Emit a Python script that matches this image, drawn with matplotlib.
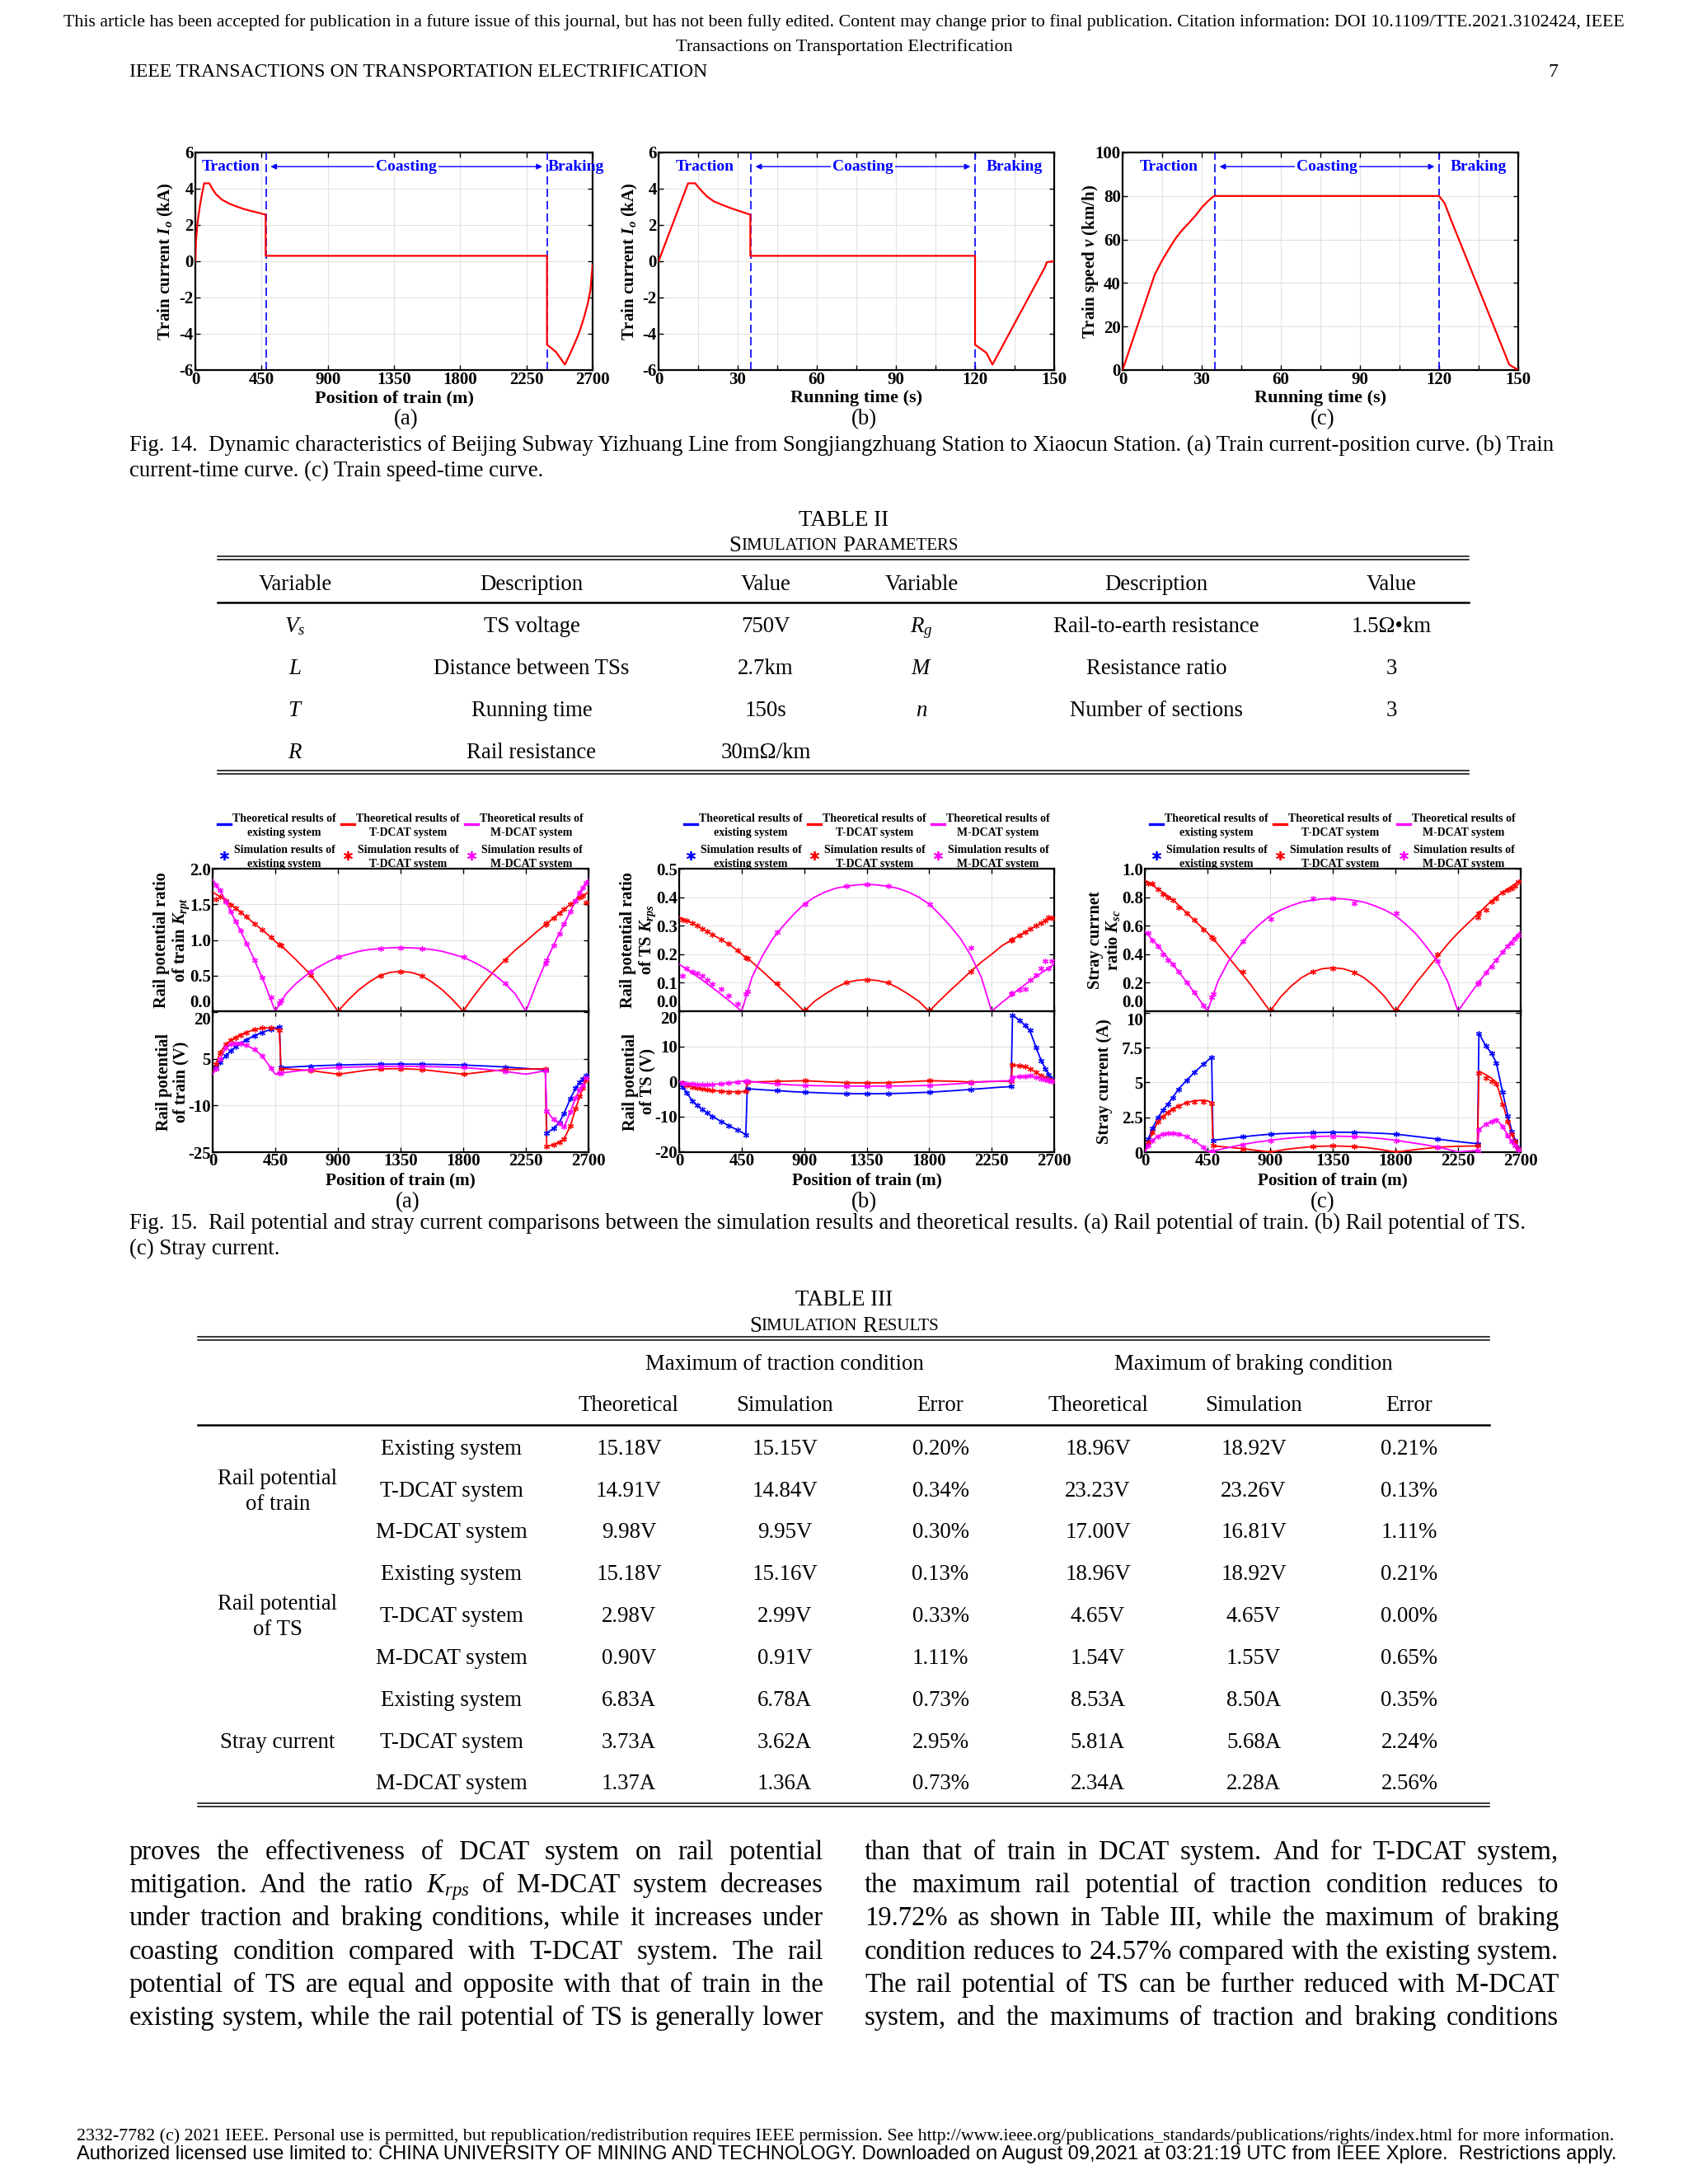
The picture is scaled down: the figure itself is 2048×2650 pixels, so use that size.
import matplotlib
matplotlib.use("Agg")
import matplotlib.pyplot as plt
from matplotlib.lines import Line2D

W, H = 2048, 2650

# ---------------- Fig. 14 data ----------------
pos_a = [0, 5, 15, 30, 45, 60, 95, 115, 140, 180, 230, 280, 330, 380, 430, 478, 478,
         2390, 2390, 2451, 2512, 2550, 2580, 2610, 2640, 2665, 2685, 2700]
cur_a = [0, 1.2, 2.15, 3.0, 3.7, 4.3, 4.3, 4.0, 3.7, 3.4, 3.18, 3.02, 2.88, 2.77, 2.67, 2.57, 0.3,
         0.3, -4.6, -5.0, -5.7, -5.05, -4.5, -3.9, -3.15, -2.4, -1.6, -0.2]
time_b = [0, 11.2, 13.9, 15, 16.5, 18.4, 21, 24, 27, 30, 32.5, 34.8, 34.8, 120, 120, 124.3, 126.6,
          146.6, 147.2, 150]
cur_b = [0, 4.3, 4.3, 4.1, 3.85, 3.57, 3.3, 3.12, 2.95, 2.8, 2.68, 2.57, 0.3, 0.3, -4.6, -5.05, -5.7,
         -0.3, -0.05, 0]
time_c = [0, 3, 6, 9, 12.2, 14.9, 17.5, 20, 22.5, 25.3, 28, 30.1, 32.5, 34.7, 120, 122.1, 124.5,
          146.6, 150]
speed_c = [0, 10.8, 21.6, 32.4, 43.9, 50.2, 55.5, 60.3, 64.2, 67.8, 71.5, 74.8, 77.8, 80, 80, 76.7,
           69.1, 2.5, 0]
phase_pos = [480, 2390]
phase_time = [35, 120]

pos_ticks = [0, 450, 900, 1350, 1800, 2250, 2700]
time_ticks = [0, 15, 30, 45, 60, 75, 90, 105, 120, 135, 150]
time_tick_labels = ['0', '', '30', '', '60', '', '90', '', '120', '', '150']

# ---------------- Fig. 15 data ----------------
ratio_pos = list(range(0, 2701, 75))
krpt_tdcat = [1.67, 1.58, 1.47, 1.35, 1.23, 1.11, 0.98, 0.86, 0.72, 0.57, 0.40, 0.21, 0.00,
              0.16, 0.30, 0.41, 0.50, 0.545, 0.56, 0.545, 0.50, 0.41, 0.30, 0.16, 0.00,
              0.21, 0.40, 0.57, 0.72, 0.86, 0.98, 1.11, 1.23, 1.35, 1.47, 1.58, 1.67]
krpt_mdcat = [1.85, 1.62, 1.32, 1.03, 0.72, 0.38, 0.00,
              0.24, 0.39, 0.51, 0.61, 0.69, 0.757, 0.80, 0.84, 0.865, 0.88, 0.89, 0.893, 0.89, 0.88,
              0.865, 0.84, 0.80, 0.757, 0.69, 0.61, 0.51, 0.39, 0.24, 0.00,
              0.38, 0.72, 1.03, 1.32, 1.62, 1.85]
krps_tdcat = [0.330, 0.314, 0.294, 0.273, 0.252, 0.230, 0.200, 0.172, 0.140, 0.106, 0.072, 0.037, 0.000,
              0.035, 0.060, 0.082, 0.100, 0.108, 0.111, 0.108, 0.100, 0.082, 0.060, 0.035, 0.000,
              0.037, 0.072, 0.106, 0.140, 0.172, 0.200, 0.230, 0.252, 0.273, 0.294, 0.314, 0.330]
krps_mdcat = [0.165, 0.140, 0.115, 0.088, 0.060, 0.031, 0.000,
              0.12, 0.195, 0.255, 0.30, 0.34, 0.376, 0.40, 0.418, 0.431, 0.438, 0.443, 0.445, 0.443,
              0.438, 0.431, 0.418, 0.40, 0.376, 0.34, 0.30, 0.255, 0.195, 0.12, 0.00,
              0.031, 0.060, 0.088, 0.115, 0.140, 0.165]
ksc_tdcat = [0.92, 0.87, 0.82, 0.76, 0.69, 0.62, 0.55, 0.47, 0.38, 0.29, 0.20, 0.10, 0.00,
             0.10, 0.175, 0.235, 0.275, 0.298, 0.305, 0.298, 0.275, 0.235, 0.175, 0.10, 0.00,
             0.10, 0.20, 0.29, 0.38, 0.47, 0.55, 0.62, 0.69, 0.76, 0.82, 0.87, 0.92]
ksc_mdcat = [0.56, 0.48, 0.39, 0.30, 0.205, 0.105, 0.00,
             0.21, 0.35, 0.45, 0.54, 0.61, 0.67, 0.71, 0.74, 0.765, 0.778, 0.788, 0.79, 0.788, 0.778,
             0.765, 0.74, 0.71, 0.67, 0.61, 0.54, 0.45, 0.35, 0.21, 0.00,
             0.105, 0.205, 0.30, 0.39, 0.48, 0.56]

sim_pos = [25, 55, 95, 130, 165, 200, 240, 300, 355, 420, 480, 490, 705, 905, 1205, 1350, 1505,
           1805, 2100, 2390, 2400, 2450, 2490, 2525, 2570, 2608, 2637, 2660, 2685]
sim_krpt_tdcat = [1.57, 1.61, 1.55, 1.49, 1.44, 1.39, 1.33, 1.23, 1.14, 1.04, 0.94, 0.93, 0.51, 0.0,
                  0.50, 0.56, 0.50, 0.0, 0.72, 1.21, 1.24, 1.31, 1.38, 1.43, 1.50, 1.55, 1.59, 1.62, 1.53]
sim_krpt_mdcat = [1.77, 1.70, 1.54, 1.40, 1.26, 1.13, 0.95, 0.72, 0.47, 0.20, 0.12, 0.15, 0.55, 0.76,
                  0.88, 0.89, 0.88, 0.76, 0.39, 0.67, 0.72, 0.93, 1.09, 1.22, 1.40, 1.55, 1.66, 1.73, 1.80]
sim_krps_tdcat = [0.322, 0.319, 0.309, 0.300, 0.290, 0.280, 0.268, 0.252, 0.236, 0.213, 0.189, 0.185,
                  0.099, 0.003, 0.100, 0.111, 0.100, 0.002, 0.140, 0.249, 0.252, 0.266, 0.278, 0.288,
                  0.300, 0.310, 0.317, 0.330, 0.327]
sim_krps_mdcat = [0.125, 0.150, 0.140, 0.133, 0.125, 0.110, 0.095, 0.077, 0.055, 0.025, 0.060, 0.068,
                  0.278, 0.376, 0.440, 0.445, 0.440, 0.376, 0.222, 0.061, 0.063, 0.075, 0.078, 0.109,
                  0.128, 0.151, 0.177, 0.150, 0.175]
sim_ksc_tdcat = [0.895, 0.895, 0.857, 0.82, 0.80, 0.78, 0.73, 0.69, 0.64, 0.57, 0.52, 0.51, 0.276, 0.007,
                 0.276, 0.298, 0.27, 0.007, 0.40, 0.66, 0.69, 0.71, 0.77, 0.79, 0.83, 0.85, 0.86, 0.88, 0.91]
sim_ksc_mdcat = [0.55, 0.50, 0.455, 0.40, 0.36, 0.33, 0.28, 0.205, 0.135, 0.04, 0.10, 0.12, 0.49, 0.65,
                 0.79, 0.79, 0.76, 0.69, 0.35, 0.19, 0.205, 0.27, 0.31, 0.36, 0.415, 0.455, 0.48, 0.51, 0.53]

theory_pos = [0, 25, 55, 95, 130, 165, 200, 240, 300, 355, 420, 450, 480, 490, 600, 705, 800, 905,
              1000, 1100, 1205, 1350, 1505, 1600, 1700, 1805, 1900, 2000, 2100, 2200, 2250, 2300, 2390,
              2400, 2450, 2490, 2525, 2570, 2608, 2637, 2660, 2685, 2700]
rpt_exist = [0, 2.1, 3.9, 6.0, 7.5, 8.8, 9.9, 11.0, 12.4, 13.4, 14.4, 14.8, 15.18,
             2.1, 2.4, 2.6, 2.8, 2.95, 3.05, 3.15, 3.2, 3.25, 3.2, 3.15, 3.05, 2.95, 2.75, 2.55, 2.3, 2.0,
             1.85, 1.7, 1.4, -18.96, -17.3, -15.5, -12.5, -7.8, -4.5, -2.6, -1.6, -0.5, 0]
rpt_tdcat = [0, 3.5, 7.0, 9.6, 10.9, 11.8, 12.6, 13.4, 14.3, 14.8, 14.91, 14.6, 14.0,
             1.8, 1.5, 1.2, 0.6, 0.0, 0.6, 1.25, 1.7, 1.8, 1.5, 1.0, 0.5, 0.0, 0.5, 1.0, 1.5, 1.6,
             1.65, 1.7, 1.7, -23.23, -22.5, -21.8, -20.8, -16.5, -11.0, -7.0, -4.5, -1.8, 0]
rpt_mdcat = [0, 1.8, 5.0, 8.6, 9.7, 9.98, 9.95, 9.3, 8.0, 5.9, 1.9, 0.0, 0.3,
             0.4, 1.0, 1.5, 1.9, 2.15, 2.3, 2.4, 2.5, 2.55, 2.5, 2.4, 2.3, 2.15, 1.8, 1.4, 0.9, 0.3,
             0.0, 0.4, 1.1, -11.9, -14.5, -15.8, -17.0, -12.0, -7.5, -5.0, -3.5, -1.2, 0]
rps_exist = [0, -1.6, -3.2, -5.6, -6.9, -8.0, -9.0, -10.0, -11.4, -12.6, -13.9, -14.5, -15.18,
             -2.1, -2.4, -2.65, -2.9, -3.1, -3.25, -3.4, -3.5, -3.55, -3.5, -3.4, -3.25, -3.1, -2.85,
             -2.6, -2.3, -2.0, -1.85, -1.7, -1.5, 18.96, 17.4, 16.0, 14.5, 9.6, 5.8, 3.6, 2.0, 0.8, 0]
rps_tdcat = [0, -0.5, -1.1, -1.6, -1.95, -2.2, -2.4, -2.6, -2.8, -2.95, -2.98, -2.95, -2.9,
             -0.2, -0.1, 0.0, 0.1, 0.2, 0.0, -0.2, -0.4, -0.45, -0.4, -0.2, 0.0, 0.2, 0.1, 0.0, -0.2,
             -0.1, -0.05, 0.0, 0.0, 4.65, 4.5, 4.2, 3.6, 2.6, 1.6, 1.0, 0.6, 0.2, 0]
rps_mdcat = [0, -0.35, -0.6, -0.75, -0.85, -0.9, -0.9, -0.85, -0.7, -0.5, -0.15, 0.0, 0.05,
             0.05, -0.4, -0.75, -1.0, -1.15, -1.25, -1.3, -1.35, -1.37, -1.35, -1.3, -1.25, -1.15,
             -0.95, -0.7, -0.4, -0.1, 0.0, 0.1, 0.2, 1.2, 1.35, 1.5, 1.54, 1.2, 0.8, 0.5, 0.3, 0.1, 0]
sc_exist = [0, 0.95, 1.7, 2.5, 3.0, 3.45, 3.9, 4.5, 5.15, 5.7, 6.3, 6.55, 6.83,
            0.85, 0.98, 1.1, 1.2, 1.29, 1.34, 1.37, 1.39, 1.43, 1.42, 1.39, 1.35, 1.29, 1.18, 1.06,
            0.94, 0.82, 0.76, 0.7, 0.61, 8.53, 7.6, 7.1, 6.4, 4.3, 2.6, 1.5, 0.85, 0.3, 0]
sc_tdcat = [0, 0.7, 1.4, 2.2, 2.55, 2.85, 3.1, 3.3, 3.55, 3.68, 3.73, 3.68, 3.55,
            0.45, 0.35, 0.25, 0.13, 0.0, 0.18, 0.3, 0.4, 0.45, 0.4, 0.32, 0.18, 0.0, 0.13, 0.25, 0.35,
            0.4, 0.42, 0.43, 0.45, 5.81, 5.55, 5.3, 5.0, 3.5, 2.2, 1.3, 0.75, 0.25, 0]
sc_mdcat = [0, 0.45, 0.85, 1.15, 1.3, 1.36, 1.37, 1.32, 1.12, 0.82, 0.35, 0.0, 0.06,
            0.08, 0.33, 0.55, 0.72, 0.85, 0.97, 1.06, 1.12, 1.15, 1.12, 1.06, 0.97, 0.85, 0.7, 0.55,
            0.38, 0.15, 0.0, 0.06, 0.12, 1.62, 2.0, 2.2, 2.34, 1.85, 1.2, 0.75, 0.45, 0.15, 0]

sim_rpt_exist = [2.1, 3.9, 6.0, 7.5, 8.8, 9.9, 11.0, 12.4, 13.4, 14.4, 15.15, 2.1, 2.6, 2.95, 3.2,
                 3.25, 3.2, 2.95, 2.3, 1.4, -18.92, -17.3, -15.5, -12.5, -7.8, -4.5, -2.6, -1.6, -0.5]
sim_rpt_tdcat = [3.4, 6.9, 9.6, 10.9, 11.8, 12.6, 13.4, 14.3, 14.8, 14.84, 14.0, 1.8, 1.2, 0.0, 1.7,
                 1.8, 1.5, 0.0, 1.5, 1.7, -23.26, -22.5, -21.8, -20.8, -16.5, -11.0, -7.0, -4.5, -1.8]
sim_rpt_mdcat = [1.7, 5.0, 8.6, 9.7, 9.95, 9.9, 9.3, 8.0, 5.9, 1.9, 0.3, 0.4, 1.5, 2.15, 2.5, 2.55,
                 2.5, 2.15, 0.9, 1.1, -11.9, -14.5, -15.8, -16.81, -12.0, -7.5, -5.0, -3.5, -1.2]
sim_rps_exist = [-1.6, -3.2, -5.6, -6.9, -8.0, -9.0, -10.0, -11.4, -12.6, -13.9, -15.16, -2.1, -2.65,
                 -3.1, -3.5, -3.55, -3.5, -3.1, -2.3, -1.5, 18.92, 17.4, 16.0, 14.5, 9.6, 5.8, 3.6, 2.0, 0.8]
sim_rps_tdcat = [-0.5, -1.1, -1.6, -1.95, -2.2, -2.4, -2.6, -2.8, -2.95, -2.99, -2.9, -0.2, 0.0, 0.2,
                 -0.4, -0.45, -0.4, 0.2, -0.2, 0.0, 4.65, 4.5, 4.2, 3.6, 2.6, 1.6, 1.0, 0.6, 0.2]
sim_rps_mdcat = [-0.35, -0.6, -0.75, -0.85, -0.91, -0.9, -0.85, -0.7, -0.5, -0.15, 0.05, 0.05, -0.75,
                 -1.15, -1.35, -1.37, -1.35, -1.15, -0.4, 0.2, 1.2, 1.35, 1.5, 1.55, 1.2, 0.8, 0.5, 0.3, 0.1]
sim_sc_exist = [0.95, 1.7, 2.5, 3.0, 3.45, 3.9, 4.5, 5.15, 5.7, 6.3, 6.78, 0.85, 1.1, 1.29, 1.39, 1.43,
                1.42, 1.29, 0.94, 0.61, 8.5, 7.6, 7.1, 6.4, 4.3, 2.6, 1.5, 0.85, 0.3]
sim_sc_tdcat = [0.7, 1.4, 2.2, 2.55, 2.85, 3.1, 3.3, 3.55, 3.62, 3.6, 3.5, 0.45, 0.25, 0.0, 0.4, 0.45,
                0.4, 0.0, 0.35, 0.45, 5.68, 5.3, 5.1, 4.9, 3.4, 2.2, 1.3, 0.75, 0.25]
sim_sc_mdcat = [0.45, 0.85, 1.15, 1.3, 1.36, 1.36, 1.32, 1.12, 0.82, 0.35, 0.06, 0.08, 0.55, 0.85, 1.12,
                1.15, 1.12, 0.85, 0.38, 0.12, 1.62, 2.0, 2.2, 2.28, 1.85, 1.2, 0.75, 0.45, 0.15]

# ---------------- tables ----------------
t2_header = ['Variable', 'Description', 'Value', 'Variable', 'Description', 'Value']
t2_var1 = [r'$V_s$', r'$L$', r'$T$', r'$R$']
t2_desc1 = ['TS voltage', 'Distance between TSs', 'Running time', 'Rail resistance']
t2_val1 = ['750V', '2.7km', '150s', '30mΩ/km']
t2_var2 = [r'$R_g$', r'$M$', r'$n$', '']
t2_desc2 = ['Rail-to-earth resistance', 'Resistance ratio', 'Number of sections', '']
t2_val2 = ['1.5Ω•km', '3', '3', '']

t3_groups = [['Rail potential', 'of train'], ['Rail potential', 'of TS'], ['Stray current']]
t3_systems = ['Existing system', 'T-DCAT system', 'M-DCAT system']
t3_theo_trac = ['15.18V', '14.91V', '9.98V', '15.18V', '2.98V', '0.90V', '6.83A', '3.73A', '1.37A']
t3_sim_trac = ['15.15V', '14.84V', '9.95V', '15.16V', '2.99V', '0.91V', '6.78A', '3.62A', '1.36A']
t3_err_trac = ['0.20%', '0.34%', '0.30%', '0.13%', '0.33%', '1.11%', '0.73%', '2.95%', '0.73%']
t3_theo_brak = ['18.96V', '23.23V', '17.00V', '18.96V', '4.65V', '1.54V', '8.53A', '5.81A', '2.34A']
t3_sim_brak = ['18.92V', '23.26V', '16.81V', '18.92V', '4.65V', '1.55V', '8.50A', '5.68A', '2.28A']
t3_err_brak = ['0.21%', '0.13%', '1.11%', '0.21%', '0.00%', '0.65%', '0.35%', '2.24%', '2.56%']

body_left = [
    "proves the effectiveness of DCAT system on rail potential",
    r"mitigation. And the ratio $K_{rps}$ of M-DCAT system decreases",
    "under traction and braking conditions, while it increases under",
    "coasting condition compared with T-DCAT system. The rail",
    "potential of TS are equal and opposite with that of train in the",
    "existing system, while the rail potential of TS is generally lower",
]
body_right = [
    "than that of train in DCAT system. And for T-DCAT system,",
    "the maximum rail potential of traction condition reduces to",
    "19.72% as shown in Table III, while the maximum of braking",
    "condition reduces to 24.57% compared with the existing system.",
    "The rail potential of TS can be further reduced with M-DCAT",
    "system, and the maximums of traction and braking conditions",
]

RED, BLUE, MAG = '#ff0000', '#0000ff', '#ff00ff'
AST = (6, 2, 0)

plt.rcParams['font.family'] = ['Liberation Serif', 'DejaVu Serif']
plt.rcParams['mathtext.fontset'] = 'custom'
plt.rcParams['mathtext.rm'] = 'Liberation Serif'
plt.rcParams['mathtext.it'] = 'Liberation Serif:italic'
plt.rcParams['mathtext.bf'] = 'Liberation Serif:bold:italic'
plt.rcParams['axes.unicode_minus'] = False

fig = plt.figure(figsize=(W / 100, H / 100), dpi=100)
renderer = fig.canvas.get_renderer()


def rect(l, t, r, b):
    return [l / W, 1 - b / H, (r - l) / W, (b - t) / H]


def put(x, y, s, size, ha='left', **kw):
    # y is the visual centre of the line in page pixels
    base = y + 0.33 * size * 100 / 72
    return fig.text(x / W, 1 - base / H, s, fontsize=size, ha=ha, va='baseline', **kw)


def width_of(s, size, **kw):
    t = fig.text(0, 0, s, fontsize=size, **kw)
    w = t.get_window_extent(renderer).width
    t.remove()
    return w


def fit(s, width, **kw):
    return 20 * width / width_of(s, 20, **kw)


def justify(line, x0, x1, y, size):
    words = line.split()
    ws = [width_of(w, size) for w in words]
    gap = (x1 - x0 - sum(ws)) / (len(words) - 1)
    x = x0
    for w, wd in zip(words, ws):
        put(x, y, w, size)
        x += wd + gap


def small_caps(xc, y, s, size):
    parts = []
    for word in s.split():
        parts += [(word[0], size), (word[1:], size * 0.78), (None, size)]
    parts = parts[:-1]
    widths = [0.25 * sz * 100 / 72 if txt is None else width_of(txt, sz) for txt, sz in parts]
    x = xc - sum(widths) / 2
    for (txt, sz), wd in zip(parts, widths):
        if txt:
            put(x, y, txt, sz)
        x += wd


def hrule(x0, x1, y, lw=1.1):
    fig.add_artist(Line2D([x0 / W, x1 / W], [1 - y / H] * 2, color='k', lw=lw,
                          transform=fig.transFigure))


def double_rule(x0, x1, y):
    hrule(x0, x1, y - 2)
    hrule(x0, x1, y + 2)


def style(ax):
    ax.tick_params(direction='in', top=True, right=True, length=4, width=1, labelsize=15, pad=1.5)
    for sp in ax.spines.values():
        sp.set_linewidth(1.6)
    ax.grid(True, color='#e2e2e2', lw=0.8)
    ax.set_axisbelow(True)


def vlabel(ax, l, r, s, off, size=15):
    ax.text(-off / (r - l), 0.5, s, rotation=90, ha='center', va='center', multialignment='center',
            transform=ax.transAxes, fontsize=size, fontweight='bold', linespacing=1.05)


# ---------------- page header ----------------
head1 = ("This article has been accepted for publication in a future issue of this journal, but has not "
         "been fully edited. Content may change prior to final publication. Citation information: DOI "
         "10.1109/TTE.2021.3102424, IEEE")
put(1024, 25, head1, fit(head1, 1890), ha='center')
head2 = "Transactions on Transportation Electrification"
put(1024, 55, head2, fit(head2, 409), ha='center')
hs = fit("IEEE TRANSACTIONS ON TRANSPORTATION ELECTRIFICATION", 700)
put(157, 85, "IEEE TRANSACTIONS ON TRANSPORTATION ELECTRIFICATION", hs)
put(1890, 85, "7", hs, ha='right')


# ---------------- Fig. 14 ----------------
def fig14_panel(box, xs, ys, bounds, xlim, xticks, xlabels, ylim, yticks, xlabel, ylabel, yoff,
                braking_left):
    l, t, r, b = box
    ax = fig.add_axes(rect(l, t, r, b))
    ax.plot(xs, ys, color=RED, lw=1.6, zorder=3)
    for bx in bounds:
        ax.axvline(bx, color=BLUE, lw=1.2, ls=(0, (6, 3)), zorder=2)
    ax.set_xlim(xlim)
    ax.set_ylim(ylim)
    ax.set_xticks(xticks, xlabels, fontweight='bold')
    ax.set_yticks(yticks, [str(v) for v in yticks], fontweight='bold')
    style(ax)
    tr = ax.get_xaxis_transform()
    ty = 0.935
    kw = dict(color=BLUE, fontsize=14, fontweight='bold', va='center', transform=tr)
    ax.text((xlim[0] + bounds[0]) / 2, ty, 'Traction', ha='center', **kw)
    mid = (bounds[0] + bounds[1]) / 2
    ax.text(mid, ty, 'Coasting', ha='center', zorder=6,
            bbox=dict(fc='white', ec='none', pad=1.5), **kw)
    for end in bounds:
        ax.annotate('', xy=(end, ty), xytext=(mid, ty), xycoords=tr, textcoords=tr, zorder=5,
                    arrowprops=dict(arrowstyle='-|>', color=BLUE, lw=1, mutation_scale=10,
                                    shrinkA=0, shrinkB=4))
    if braking_left:
        ax.text(bounds[1] + 0.002 * (xlim[1] - xlim[0]), ty, 'Braking', ha='left', **kw)
    else:
        ax.text((bounds[1] + xlim[1]) / 2, ty, 'Braking', ha='center', **kw)
    ax.set_xlabel(xlabel, fontsize=16, fontweight='bold')
    ax.xaxis.set_label_coords(0.5, -(483 - b) / (b - t))
    ax.xaxis.label.set_va('center')
    vlabel(ax, l, r, ylabel, yoff, 15)
    return ax


fig14_panel((237, 185, 719, 449), pos_a, cur_a, phase_pos, (0, 2700), pos_ticks,
            [str(v) for v in pos_ticks], (-6, 6), [-6, -4, -2, 0, 2, 4, 6],
            'Position of train (m)', r'Train current $\mathbf{I_o}$ (kA)', 36, True)
fig14_panel((799, 185, 1279, 449), time_b, cur_b, phase_time, (0, 150), time_ticks, time_tick_labels,
            (-6, 6), [-6, -4, -2, 0, 2, 4, 6], 'Running time (s)', r'Train current $\mathbf{I_o}$ (kA)',
            35, False)
fig14_panel((1362, 185, 1842, 449), time_c, speed_c, phase_time, (0, 150), time_ticks, time_tick_labels,
            (0, 100), [0, 20, 40, 60, 80, 100], 'Running time (s)', r'Train speed $\mathbf{v}$ (km/h)',
            39, False)

for xc, lab in zip([493, 1048, 1605], ['(a)', '(b)', '(c)']):
    put(xc, 506, lab, 19.3, ha='center')

cap1 = ("Fig. 14.  Dynamic characteristics of Beijing Subway Yizhuang Line from Songjiangzhuang Station "
        "to Xiaocun Station. (a) Train current-position curve. (b) Train")
cap = fit(cap1, 1732)
put(157, 538, cap1, cap)
put(157, 569, "current-time curve. (c) Train speed-time curve.", cap)

# ---------------- Table II ----------------
tsz = fit('Distance between TSs', 238)
put(1024, 629, 'TABLE II', tsz, ha='center')
small_caps(1024, 660, 'SIMULATION PARAMETERS', tsz)
double_rule(264, 1782, 677)
t2_cols = [358, 645, 929, 1118, 1403, 1688]
for xc, hd in zip(t2_cols, t2_header):
    put(xc, 707, hd, tsz, ha='center')
hrule(264, 1782, 731, lw=1.8)
for i, y in enumerate([758, 809, 860, 911]):
    row = [t2_var1[i], t2_desc1[i], t2_val1[i], t2_var2[i], t2_desc2[i], t2_val2[i]]
    for xc, s in zip(t2_cols, row):
        if s:
            put(xc, y, s, tsz, ha='center')
double_rule(264, 1782, 937)


# ---------------- Fig. 15 ----------------
def legend_block(left):
    names = ['existing system', 'T-DCAT system', 'M-DCAT system']
    for k, (col, nm) in enumerate(zip([BLUE, RED, MAG], names)):
        hx = left + 14 + 150 * k
        tx = left + 87 + 150 * k
        fig.add_artist(Line2D([(hx - 8) / W, (hx + 8) / W], [1 - 1000 / H] * 2, color=col, lw=2.4,
                              transform=fig.transFigure))
        fig.add_artist(Line2D([hx / W], [1 - 1038 / H], marker=AST, color=col, ms=8, mew=1.3,
                              ls='none', transform=fig.transFigure))
        put(tx, 992, 'Theoretical results of', 10, ha='center', fontweight='bold')
        put(tx, 1009, nm, 10, ha='center', fontweight='bold')
        put(tx, 1030, 'Simulation results of', 10, ha='center', fontweight='bold')
        put(tx, 1047, nm, 10, ha='center', fontweight='bold')


def fig15_panel(l, r, top_th, top_sim, top_lim, top_ticks, top_lab, bot_th, bot_sim, bot_lim,
                bot_ticks, bot_lab, top_ylabel, bot_ylabel):
    ax1 = fig.add_axes(rect(l, 1054, r, 1227))
    ax2 = fig.add_axes(rect(l, 1227, r, 1398))
    for col, th, sm in zip([RED, MAG], top_th, top_sim):
        ax1.plot(ratio_pos, th, color=col, lw=1.3, zorder=3)
        ax1.plot(sim_pos, sm, ls='none', marker=AST, ms=5, mew=0.9, color=col, zorder=4)
    for col, th, sm in zip([BLUE, RED, MAG], bot_th, bot_sim):
        ax2.plot(theory_pos, th, color=col, lw=1.3, zorder=3)
        ax2.plot(sim_pos, sm, ls='none', marker=AST, ms=5, mew=0.9, color=col, zorder=4)
    for ax, lim, ticks, lab in [(ax1, top_lim, top_ticks, top_lab), (ax2, bot_lim, bot_ticks, bot_lab)]:
        ax.set_xlim(0, 2700)
        ax.set_ylim(lim)
        ax.set_yticks(ticks, lab, fontweight='bold')
        ax.set_xticks(pos_ticks, [str(v) for v in pos_ticks], fontweight='bold')
        style(ax)
    ax1.tick_params(labelbottom=False)
    ax2.tick_params(axis='x', pad=1)
    # keep the labels at the shared edge apart, as in the original
    ax1.get_yticklabels()[0].set_va('bottom')
    ax2.get_yticklabels()[-1].set_va('top')
    ax2.set_xlabel('Position of train (m)', fontsize=15.2, fontweight='bold')
    ax2.xaxis.set_label_coords(0.5, -(1432 - 1398) / (1398 - 1227))
    ax2.xaxis.label.set_va('center')
    vlabel(ax1, l, r, top_ylabel, 49, 14.7)
    vlabel(ax2, l, r, bot_ylabel, 49, 14.7)
    legend_block(l)


fig15_panel(258, 714, [krpt_tdcat, krpt_mdcat], [sim_krpt_tdcat, sim_krpt_mdcat], (0, 2),
            [0, 0.5, 1.0, 1.5, 2.0], ['0.0', '0.5', '1.0', '1.5', '2.0'],
            [rpt_exist, rpt_tdcat, rpt_mdcat], [sim_rpt_exist, sim_rpt_tdcat, sim_rpt_mdcat],
            (-25, 20.2), [-25, -10, 5, 20], ['-25', '-10', '5', '20'],
            'Rail potential ratio\nof train $\\mathbf{K_{rpt}}$', 'Rail potential\nof train (V)')
fig15_panel(824, 1279, [krps_tdcat, krps_mdcat], [sim_krps_tdcat, sim_krps_mdcat], (0, 0.5),
            [0, 0.1, 0.2, 0.3, 0.4, 0.5], ['0.0', '0.1', '0.2', '0.3', '0.4', '0.5'],
            [rps_exist, rps_tdcat, rps_mdcat], [sim_rps_exist, sim_rps_tdcat, sim_rps_mdcat],
            (-20.2, 20), [-20, -10, 0, 10, 20], ['-20', '-10', '0', '10', '20'],
            'Rail potential ratio\nof TS $\\mathbf{K_{rps}}$', 'Rail potential\nof TS (V)')
fig15_panel(1389, 1845, [ksc_tdcat, ksc_mdcat], [sim_ksc_tdcat, sim_ksc_mdcat], (0, 1.0),
            [0, 0.2, 0.4, 0.6, 0.8, 1.0], ['0.0', '0.2', '0.4', '0.6', '0.8', '1.0'],
            [sc_exist, sc_tdcat, sc_mdcat], [sim_sc_exist, sim_sc_tdcat, sim_sc_mdcat],
            (0, 10.1), [0, 2.5, 5, 7.5, 10], ['0', '2.5', '5', '7.5', '10'],
            'Stray currnet\nratio $\\mathbf{K_{sc}}$', 'Stray current (A)')

for xc, lab in zip([495, 1048, 1605], ['(a)', '(b)', '(c)']):
    put(xc, 1456, lab, 19.3, ha='center')
put(157, 1482, "Fig. 15.  Rail potential and stray current comparisons between the simulation results and "
    "theoretical results. (a) Rail potential of train. (b) Rail potential of TS.", cap)
put(157, 1513, "(c) Stray current.", cap)

# ---------------- Table III ----------------
put(1024, 1575, 'TABLE III', tsz, ha='center')
small_caps(1024, 1607, 'SIMULATION RESULTS', tsz)
double_rule(240, 1807, 1624)
put(952, 1653, 'Maximum of traction condition', tsz, ha='center')
put(1521, 1653, 'Maximum of braking condition', tsz, ha='center')
t3_cols = [763, 952, 1141, 1332, 1521, 1710]
for xc, hd in zip(t3_cols, ['Theoretical', 'Simulation', 'Error'] * 2):
    put(xc, 1703, hd, tsz, ha='center')
hrule(240, 1807, 1729, lw=1.8)
t3_rows = [1756, 1807, 1857, 1908, 1959, 2010, 2061, 2112, 2162]
for i, y in enumerate(t3_rows):
    put(548, y, t3_systems[i % 3], tsz, ha='center')
    vals = [t3_theo_trac[i], t3_sim_trac[i], t3_err_trac[i], t3_theo_brak[i], t3_sim_brak[i], t3_err_brak[i]]
    for xc, s in zip(t3_cols, vals):
        put(xc, y, s, tsz, ha='center')
for g, lines in enumerate(t3_groups):
    yc = t3_rows[3 * g + 1]
    if len(lines) == 2:
        put(337, yc - 15, lines[0], tsz, ha='center')
        put(337, yc + 16, lines[1], tsz, ha='center')
    else:
        put(337, yc, lines[0], tsz, ha='center')
double_rule(240, 1807, 2190)

# ---------------- body text ----------------
bsz = min(min(fit(s, 842) for s in body_left), min(fit(s, 842) for s in body_right), 24.5)
for i, y in enumerate([2245, 2285, 2325, 2366, 2406, 2446]):
    justify(body_left[i], 157, 999, y, bsz)
    justify(body_right[i], 1049, 1891, y, bsz)

# ---------------- footer ----------------
f1 = ("2332-7782 (c) 2021 IEEE. Personal use is permitted, but republication/redistribution requires IEEE "
      "permission. See http://www.ieee.org/publications_standards/publications/rights/index.html for more "
      "information.")
put(93, 2590, f1, fit(f1, 1867))
f2 = ("Authorized licensed use limited to: CHINA UNIVERSITY OF MINING AND TECHNOLOGY. Downloaded on "
      "August 09,2021 at 03:21:19 UTC from IEEE Xplore.  Restrictions apply.")
put(93, 2612, f2, fit(f2, 1862, family='Liberation Sans'), family='Liberation Sans')

fig.savefig('out.png', dpi=100)
